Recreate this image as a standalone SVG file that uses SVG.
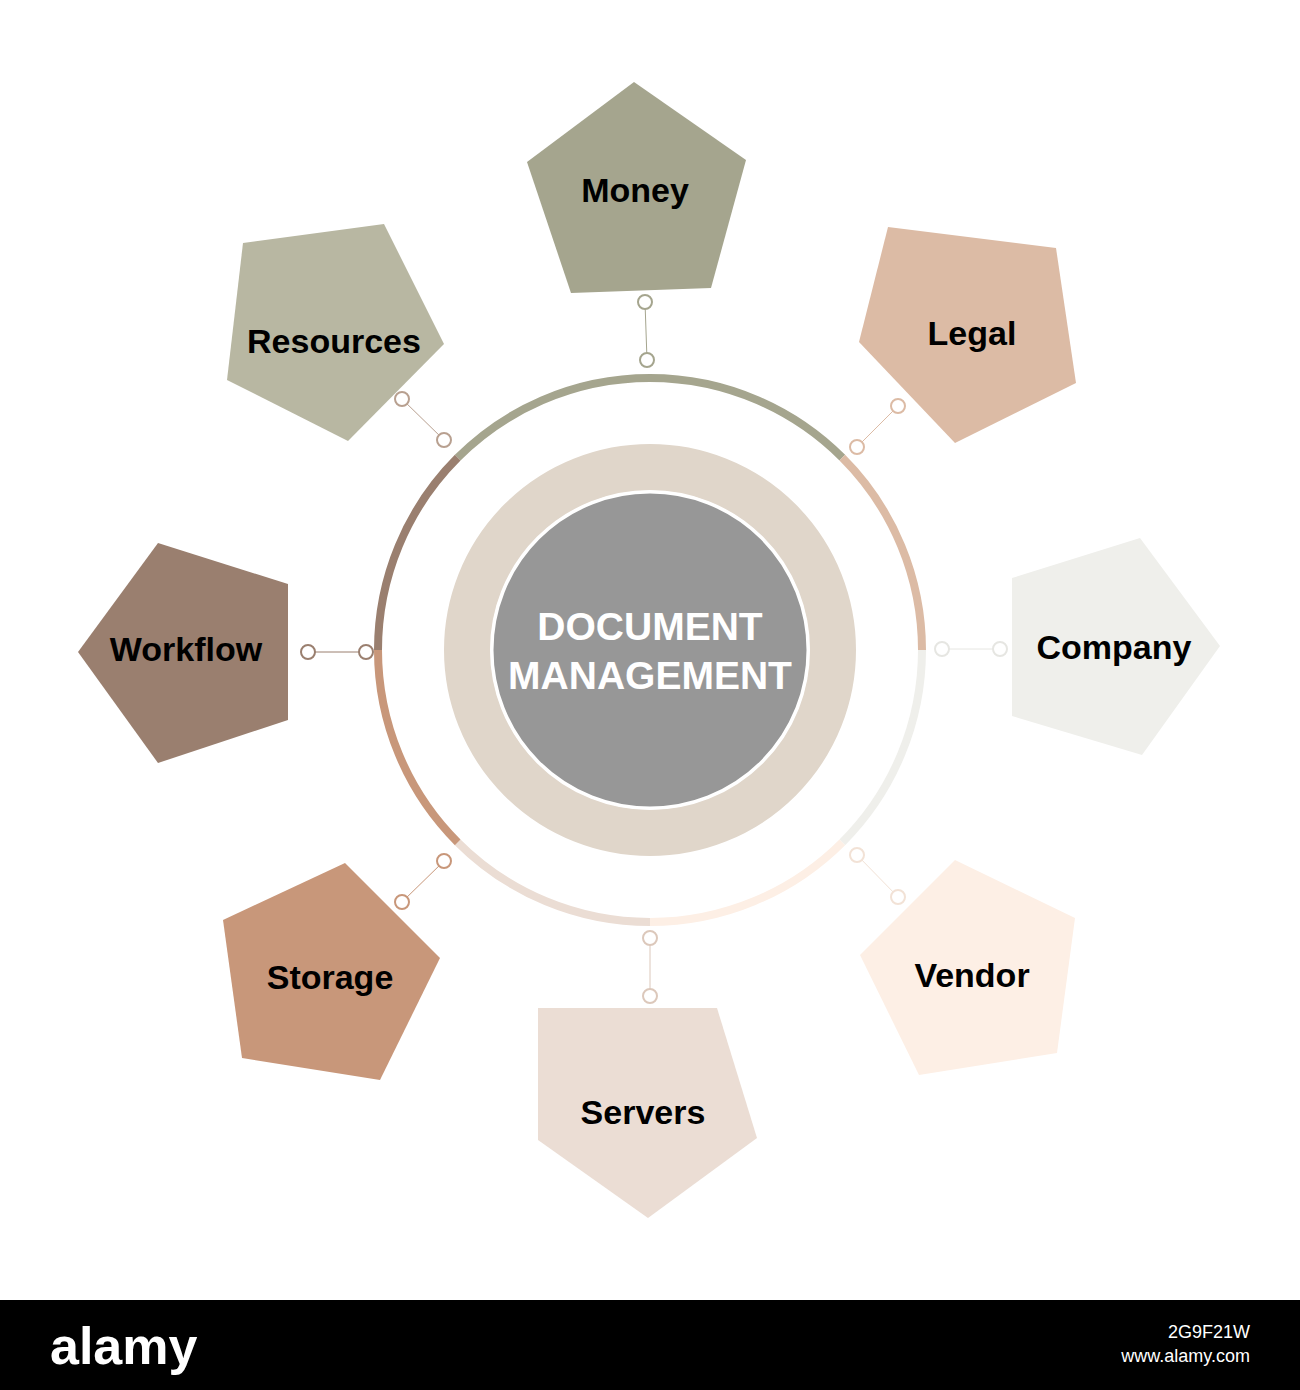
<svg xmlns="http://www.w3.org/2000/svg" width="1300" height="1390" viewBox="0 0 1300 1390">
<style>
.lbl{font-family:"Liberation Sans",Arial,sans-serif;font-weight:bold;font-size:34px;fill:#000;text-anchor:middle}
.ctr{font-family:"Liberation Sans",Arial,sans-serif;font-weight:bold;font-size:39px;fill:#fff;text-anchor:middle}
.arc{fill:none;stroke-width:8}
.cn{fill:#fff;stroke-width:2}
</style>
<rect width="1300" height="1390" fill="#fff"/>
<g id="rings">
<path class="arc" stroke="#a5a58e" d="M457.7,457.7 A272,272 0 0 1 842.3,457.7"/>
<path class="arc" stroke="#dcbba5" d="M842.3,457.7 A272,272 0 0 1 922,650"/>
<path class="arc" stroke="#efefeb" d="M922,650 A272,272 0 0 1 842.3,842.3"/>
<path class="arc" stroke="#fdefe5" d="M842.3,842.3 A272,272 0 0 1 650,922"/>
<path class="arc" stroke="#ebddd4" d="M650,922 A272,272 0 0 1 457.7,842.3"/>
<path class="arc" stroke="#c8977a" d="M457.7,842.3 A272,272 0 0 1 378,650"/>
<path class="arc" stroke="#9a7f6f" d="M378,650 A272,272 0 0 1 457.7,457.7"/>
<circle cx="650" cy="650" r="183" fill="none" stroke="#e0d6ca" stroke-width="46"/>
</g>
<g id="center">
<circle cx="650" cy="650" r="158" fill="#979797" stroke="#fff" stroke-width="3"/>
<text class="ctr" x="650" y="640">DOCUMENT</text>
<text class="ctr" x="650" y="689">MANAGEMENT</text>
</g>
<g id="connectors">
<g stroke="#a5a58e"><line x1="645" y1="302" x2="647" y2="360"/><circle class="cn" cx="645" cy="302" r="7"/><circle class="cn" cx="647" cy="360" r="7"/></g>
<g stroke="#dcbba5"><line x1="898" y1="406" x2="857" y2="447"/><circle class="cn" cx="898" cy="406" r="7"/><circle class="cn" cx="857" cy="447" r="7"/></g>
<g stroke="#e6e6e2"><line x1="942" y1="649" x2="1000" y2="649"/><circle class="cn" cx="942" cy="649" r="7"/><circle class="cn" cx="1000" cy="649" r="7"/></g>
<g stroke="#f2e2d6"><line x1="857" y1="855" x2="898" y2="897"/><circle class="cn" cx="857" cy="855" r="7"/><circle class="cn" cx="898" cy="897" r="7"/></g>
<g stroke="#dcc8bb"><line x1="650" y1="938" x2="650" y2="996"/><circle class="cn" cx="650" cy="938" r="7"/><circle class="cn" cx="650" cy="996" r="7"/></g>
<g stroke="#c8977a"><line x1="444" y1="861" x2="402" y2="902"/><circle class="cn" cx="444" cy="861" r="7"/><circle class="cn" cx="402" cy="902" r="7"/></g>
<g stroke="#9a7f6f"><line x1="308" y1="652" x2="366" y2="652"/><circle class="cn" cx="308" cy="652" r="7"/><circle class="cn" cx="366" cy="652" r="7"/></g>
<g stroke="#b8a090"><line x1="402" y1="399" x2="444" y2="440"/><circle class="cn" cx="402" cy="399" r="7"/><circle class="cn" cx="444" cy="440" r="7"/></g>
</g>
<g id="money"><polygon points="634,82 746,160 711,288 571,293 527,162" fill="#a5a58e"/><text class="lbl" x="635" y="202">Money</text></g>
<g id="legal"><polygon points="888,227 1056,248 1076,383 955,443 859,342" fill="#dcbba5"/><text class="lbl" x="972" y="345">Legal</text></g>
<g id="company"><polygon points="1012,578 1140,538 1220,646 1142,755 1012,716" fill="#efefeb"/><text class="lbl" x="1114" y="659">Company</text></g>
<g id="vendor"><polygon points="860,955 955,860 1075,918 1057,1053 919,1075" fill="#fdefe5"/><text class="lbl" x="972" y="987">Vendor</text></g>
<g id="servers"><polygon points="538,1008 717,1008 757,1138 648,1218 538,1140" fill="#ebddd4"/><text class="lbl" x="643" y="1124">Servers</text></g>
<g id="storage"><polygon points="223,920 345,863 440,958 380,1080 242,1058" fill="#c8977a"/><text class="lbl" x="330" y="989">Storage</text></g>
<g id="workflow"><polygon points="158,543 288,584 288,720 158,763 78,652" fill="#9a7f6f"/><text class="lbl" x="186" y="661">Workflow</text></g>
<g id="resources"><polygon points="243,243 384,224 444,344 348,441 227,380" fill="#b8b7a2"/><text class="lbl" x="334" y="353">Resources</text></g>
<g id="footer">
<rect x="0" y="1300" width="1300" height="90" fill="#000"/>
<text x="50" y="1364" font-family="Liberation Sans,Arial,sans-serif" font-weight="bold" font-size="52" fill="#fff">alamy</text>
<text x="1250" y="1338" font-family="Liberation Sans,Arial,sans-serif" font-size="18" fill="#fff" text-anchor="end">2G9F21W</text>
<text x="1250" y="1362" font-family="Liberation Sans,Arial,sans-serif" font-size="18" fill="#fff" text-anchor="end">www.alamy.com</text>
</g>
</svg>
